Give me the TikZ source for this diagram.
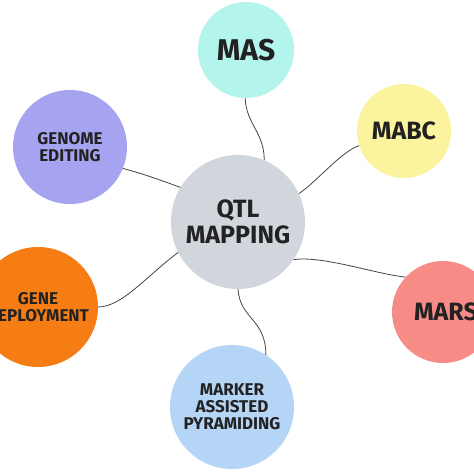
\documentclass[tikz,border=0pt]{standalone}
\usepackage{fontspec}
\setmainfont{Fira Sans}
\definecolor{cMAS}{HTML}{B3F5EC}
\definecolor{cMABC}{HTML}{FBF39E}
\definecolor{cGEN}{HTML}{A6A4F0}
\definecolor{cQTL}{HTML}{D1D5DC}
\definecolor{cDEP}{HTML}{F57D14}
\definecolor{cMARS}{HTML}{F78B86}
\definecolor{cMAP}{HTML}{B5D5F6}
\definecolor{ctext}{HTML}{222222}
\definecolor{cline}{HTML}{444444}
\begin{document}
\begin{tikzpicture}[x=1pt,y=-1pt,
  bub/.style={circle,inner sep=0pt,align=center,text=ctext,font=\bfseries},
  wire/.style={draw=cline,line width=0.8pt}]
\clip (0,0) rectangle (474,474);
\fill[white] (0,0) rectangle (474,474);
\node[bub,fill=cQTL,minimum size=134pt,font=\bfseries\fontsize{25}{26}\selectfont] (qtl) at (238,222) {QTL\\MAPPING};
\node[bub,fill=cMAS,minimum size=96pt,font=\bfseries\fontsize{30}{30}\selectfont] (mas) at (246,50) {MAS};
\node[bub,fill=cMABC,minimum size=94pt,font=\bfseries\fontsize{25}{25}\selectfont] (mabc) at (404,131) {MABC};
\node[bub,fill=cGEN,minimum size=114pt,font=\bfseries\fontsize{17}{17}\selectfont] (gen) at (70,147) {GENOME\\EDITING};
\node[bub,fill=cDEP,minimum size=120pt,font=\bfseries\fontsize{17}{17}\selectfont] (dep) at (38,307) {GENE\\DEPLOYMENT};
\node[bub,fill=cMARS,minimum size=102pt,font=\bfseries\fontsize{25}{25}\selectfont] (mars) at (443,312) {\hspace*{6pt}MARS};
\node[bub,fill=cMAP,minimum size=124pt,font=\bfseries\fontsize{17}{17}\selectfont] (map) at (232,407) {MARKER\\ASSISTED\\PYRAMIDING};
\draw[wire] (mas.-91) .. controls +(1,26) and +(0,-28) .. (qtl.67);
\draw[wire] (mabc.-162) .. controls +(-18,6) and +(18,-12) .. (qtl.25);
\draw[wire] (gen.-22) .. controls +(22,6) and +(-22,-8) .. (qtl.149);
\draw[wire] (dep.0) .. controls +(24,0) and +(-30,22) .. (qtl.-153);
\draw[wire] (mars.137) .. controls +(-30,-3) and +(30,-4) .. (qtl.-34);
\draw[wire] (map.57) .. controls +(0,-36) and +(2,30) .. (qtl.-90);
\end{tikzpicture}
\end{document}
